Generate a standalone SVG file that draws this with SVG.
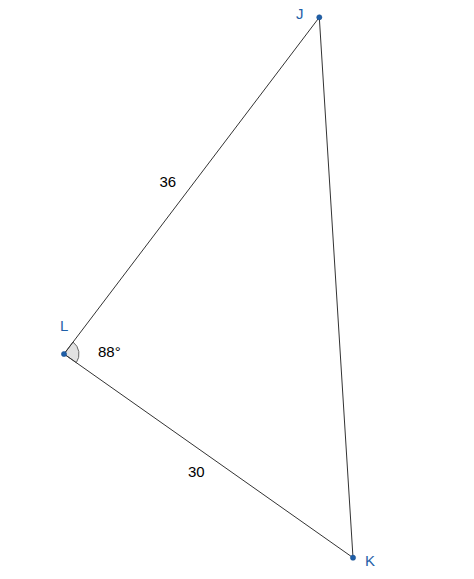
<svg xmlns="http://www.w3.org/2000/svg" width="474" height="579" viewBox="0 0 474 579">
<style>
.edge{stroke:#333;stroke-width:1;fill:none}
.pt{fill:#1f5fa8;stroke:#1a4f8c;stroke-width:0.5}
.plab{font-family:"Liberation Sans",Arial,sans-serif;font-size:15px;fill:#1f5fa8}
.lab{font-family:"Liberation Sans",Arial,sans-serif;font-size:15px;fill:#000}
</style>
<rect width="474" height="579" fill="#fff"/>
<g id="angle">
<path d="M64,354 L73,342 A15,15 0 0 1 76.3,362.6 Z" fill="#e2e2e2" stroke="#666" stroke-width="1"/>
</g>
<g id="connectors">
<line class="edge" x1="64" y1="354" x2="319.3" y2="17.3"/>
<line class="edge" x1="319.3" y1="17.3" x2="353" y2="557.7"/>
<line class="edge" x1="64" y1="354" x2="353" y2="557.7" stroke-width="1.4"/>
</g>
<g id="J"><circle class="pt" cx="319.3" cy="17.3" r="2.6"/><text class="plab" x="296" y="19">J</text></g>
<g id="K"><circle class="pt" cx="353" cy="557.7" r="2.6"/><text class="plab" x="365" y="566">K</text></g>
<g id="L"><circle class="pt" cx="64" cy="354" r="2.6"/><text class="plab" x="60" y="331">L</text></g>
<text class="lab" x="159.5" y="187">36</text>
<text class="lab" x="188" y="477">30</text>
<text class="lab" x="98" y="357">88°</text>
</svg>
